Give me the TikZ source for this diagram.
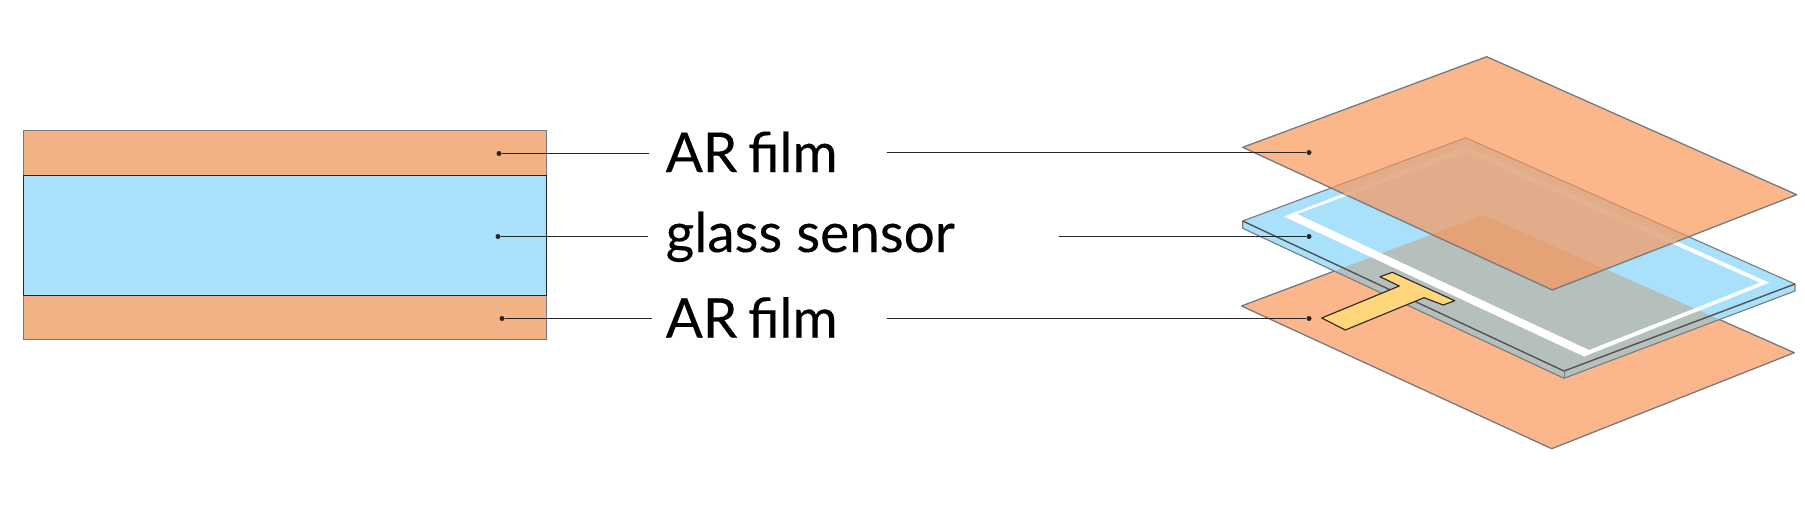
\documentclass[tikz,border=0pt]{standalone}
\usepackage{fontspec}
\setmainfont{Lato}
\newfontfamily\capfont{Lato}[FakeBold=0.2]
\usetikzlibrary{positioning, calc}
\definecolor{filmflat}{HTML}{F2B285}
\definecolor{filmpale}{HTML}{FBB68B}
\definecolor{filmtint}{HTML}{F99759}
\definecolor{glassblue}{HTML}{A9E0FC}
\definecolor{glassgrey}{HTML}{B5BFBB}
\definecolor{tailyellow}{HTML}{FFD67A}
\definecolor{edgegrey}{HTML}{757B80}
\definecolor{edgedark}{HTML}{55514F}
\definecolor{framefaint}{HTML}{E5B18F}
\def\framepath{(1284,216.5) -- (1465.7,146.7) -- (1769.3,282.7) -- (1584,356.5) -- cycle (1297,214) -- (1465.7,152) -- (1760,282.7) -- (1589,350) -- cycle}

\begin{document}
\begin{tikzpicture}[
    x=1pt, y=-1pt,
    layerfilm/.style={fill=filmflat, draw=edgegrey, line width=1.2pt},
    layerglass/.style={fill=glassblue, draw=black!85, line width=1.2pt},
    sheet/.style={fill=filmpale, draw=edgegrey, line width=1.3pt, line join=round},
    topsheet/.style={fill=filmtint, fill opacity=0.7, draw=edgegrey, line width=1.3pt, line join=round},
    tail/.style={fill=tailyellow, draw=black!85, line width=1.1pt, line join=round},
    dot/.style={circle, fill=black!85, inner sep=0pt, minimum size=5pt},
    lead/.style={draw=black!85, line width=1.1pt},
    caption/.style={anchor=base west, inner sep=0pt, text=black, font=\capfont\fontsize{55}{60}\selectfont},
]
\useasboundingbox (0,0) rectangle (1805,509);

% Corners of the three sheets on the right
\coordinate (upperL) at (1242.7,147.3);
\coordinate (upperT) at (1486.7,56.7);
\coordinate (upperR) at (1796.7,194.7);
\coordinate (upperB) at (1552.3,290);
\coordinate (lowerL) at (1241.5,306);
\coordinate (lowerT) at (1483.3,215);
\coordinate (lowerR) at (1794.3,352.7);
\coordinate (lowerB) at (1551.7,448.7);
\coordinate (glassL) at (1242.7,221);
\coordinate (glassT) at (1465.7,137.7);
\coordinate (glassR) at (1795,284);
\coordinate (glassB) at (1564,371);
\coordinate (glassLd) at (1242.7,228.3);
\coordinate (glassRd) at (1795,291);
\coordinate (glassBd) at (1564,378.3);

% Stack seen from the side
\draw[layerfilm] (23.5,130.7) rectangle (546.3,175.3);
\draw[layerfilm] (23.5,295.3) rectangle (546.3,339.3);
\draw[layerglass] (23.5,175.3) rectangle (546.3,295.3);

% Lower film
\draw[sheet] (lowerL) -- (lowerT) -- (lowerR) -- (lowerB) -- cycle;

% Glass sensor, grey where it lies over the lower film
\fill[glassblue] (glassL) -- (glassT) -- (glassR) -- (glassRd) -- (glassBd) -- (glassLd) -- cycle;
\begin{scope}
    \clip (glassL) -- (glassT) -- (glassR) -- (glassRd) -- (glassBd) -- (glassLd) -- cycle;
    \fill[glassgrey] (lowerL) -- (lowerT) -- (lowerR) -- (lowerB) -- cycle;
\end{scope}
\fill[white, even odd rule] \framepath;
\draw[edgegrey, line width=1.1pt, line join=round] (glassL) -- (glassT) -- (glassR) -- (glassRd) -- (glassBd) -- (glassLd) -- cycle;
\draw[edgedark, line width=1.4pt, line join=round] (glassL) -- (glassB) -- (glassR);
\draw[edgegrey, line width=1pt] (glassB) -- (glassBd);

% Connector tail
\draw[tail] (1380,276.7) -- (1392.3,272.3) -- (1454.7,300.7) -- (1443.3,305) -- (1424,297.7) -- (1345.3,330) -- (1321.7,318) -- (1399.3,286) -- cycle;

% Upper film, the frame shows only faintly through it
\draw[topsheet] (upperL) -- (upperT) -- (upperR) -- (upperB) -- cycle;
\begin{scope}
    \clip (upperL) -- (upperT) -- (upperR) -- (upperB) -- cycle;
    \fill[framefaint, even odd rule] \framepath;
\end{scope}

% Captions
\node[caption] (capTop) at (665.5,172) {AR\kern-3.5pt{} film};
\node[caption] (capMid) at (665.5,252) {glass sensor};
\node[caption] (capLow) at (665.5,337.7) {AR\kern-3.5pt{} film};

% Dots and free ends of the leaders
\node[dot] (dotTopL) at (499,153.5) {};
\node[dot] (dotMidL) at (498,236.5) {};
\node[dot] (dotLowL) at (502,318.5) {};
\node[dot] (dotTopR) at (1309,152.5) {};
\node[dot] (dotMidR) at (1309,236.5) {};
\node[dot] (dotLowR) at (1309,318.5) {};
\coordinate (endTopL) at (649,153.5);
\coordinate (endMidL) at (648,236.5);
\coordinate (endLowL) at (652,318.5);
\coordinate (endTopR) at (886.7,152.5);
\coordinate (endMidR) at (1058.7,236.5);
\coordinate (endLowR) at (886.7,318.5);

% Draw the leaders
\draw[lead] (dotTopL) -- (endTopL);
\draw[lead] (dotMidL) -- (endMidL);
\draw[lead] (dotLowL) -- (endLowL);
\draw[lead] (endTopR) -- (dotTopR);
\draw[lead] (endMidR) -- (dotMidR);
\draw[lead] (endLowR) -- (dotLowR);

\end{tikzpicture}
\end{document}
